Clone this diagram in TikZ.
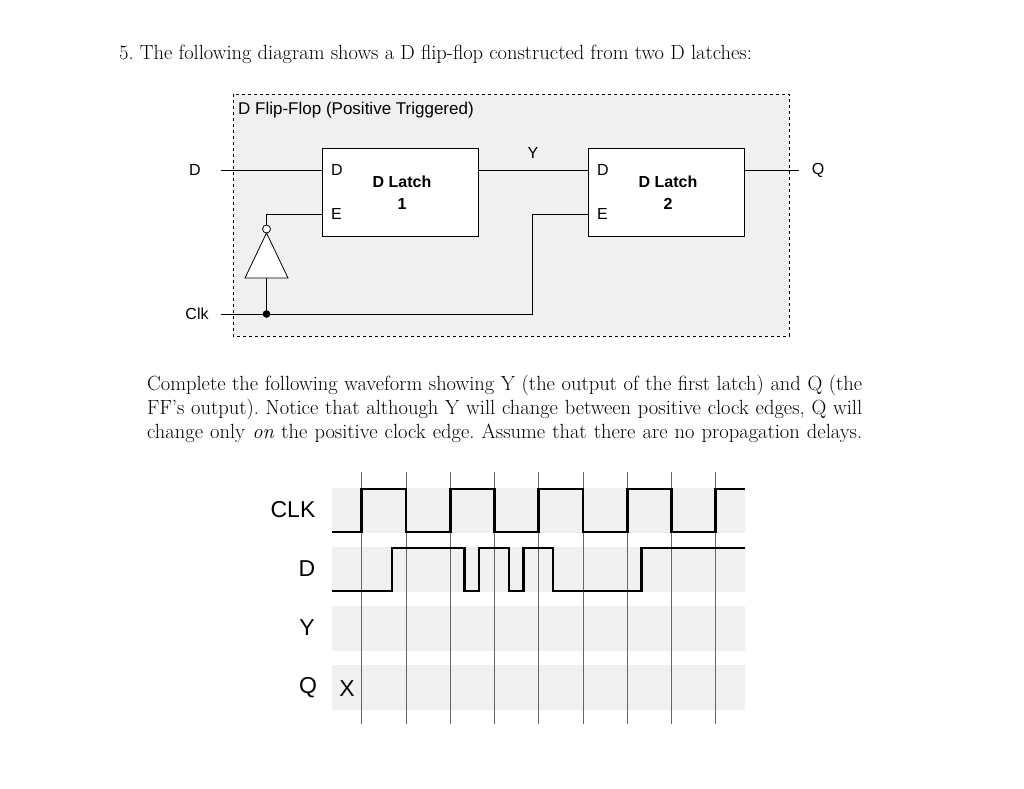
\documentclass[tikz,border=0pt]{standalone}
\usepackage{fontspec}
\newfontfamily\hv{Liberation Sans}
\frenchspacing
\begin{document}
\begin{tikzpicture}[x=1pt,y=-1pt,
  wire/.style={line width=0.8pt},
  wave/.style={line width=2.8pt},
  sans/.style={font=\hv\fontsize{16}{18}\selectfont,inner sep=0pt},
  big/.style={font=\hv\fontsize{23}{25}\selectfont,inner sep=0pt},
  ser/.style={font=\fontsize{20.5}{24}\selectfont,inner sep=0pt,anchor=base west}]
\useasboundingbox (0,0) rectangle (1024,788);
\fill[white] (0,0) rectangle (1024,788);
% texts
\node[ser] (t1) at (119,59) {5. The following diagram shows a D flip-flop constructed from two D latches:};
\node[ser] (p1) at (147,390) {\makebox[715pt][s]{Complete the following waveform showing Y (the output of the first latch) and Q (the}};
\node[ser] (p2) at (147,414) {\makebox[715pt][s]{FF's output). Notice that although Y will change between positive clock edges, Q will}};
\node[ser] (p3) at (147,438) {\makebox[715pt][s]{change only \emph{on} the positive clock edge. Assume that there are no propagation delays.}};
% circuit
\draw[dashed,fill=black!6,line width=0.8pt] (233,94) rectangle (789,336);
\node[sans,font=\hv\fontsize{17}{19}\selectfont,anchor=west] (title) at (238,110) {D Flip-Flop (Positive Triggered)};
\node[draw,fill=white,line width=1.3pt,minimum width=156pt,minimum height=88pt,anchor=north west] (L1) at (322,148) {};
\node[draw,fill=white,line width=1.3pt,minimum width=156pt,minimum height=88pt,anchor=north west] (L2) at (588,148) {};
\node[sans,font=\hv\bfseries\fontsize{16}{22}\selectfont,align=center] (l1t) at (402,193) {D Latch\\1};
\node[sans,font=\hv\bfseries\fontsize{16}{22}\selectfont,align=center] (l2t) at (668,193) {D Latch\\2};
\coordinate (D1) at (322,170); \coordinate (E1) at (322,214);
\coordinate (D2) at (588,170); \coordinate (E2) at (588,214);
\node[sans,anchor=west] (pd1) at (331,170) {D};
\node[sans,anchor=west] (pe1) at (331,214) {E};
\node[sans,anchor=west] (pd2) at (597,170) {D};
\node[sans,anchor=west] (pe2) at (597,214) {E};
\node[sans] (Din) at (195,170) {D};
\node[sans] (Clk) at (197,314) {Clk};
\node[sans] (Yl) at (533,153) {Y};
\node[sans] (Ql) at (818,170) {Q};
\coordinate (Ds) at (221,170); \coordinate (Cs) at (221,314);
\coordinate (Qe) at (799,170);
\draw[wire] (Ds) -- (D1);
\draw[wire] (L1.east |- D1) -- (D2);
\draw[wire] (L2.east |- D1) -- (Qe);
\coordinate (J) at (266.5,314);
\draw[wire] (Cs) -- (532,314) -- (532,214) -- (E2);
\draw[wire] (J) -- (266.5,278);
\draw[wire,fill=white] (245,278) -- (288,278) -- (266.5,233) -- cycle;
\draw[wire,fill=white] (266.5,229) circle (4);
\draw[wire] (266.5,225) -- (266.5,214) -- (E1);
\fill (J) circle (3.8);
% waveform
\foreach \y in {488,547,606,665} \fill[black!6] (332,\y) rectangle (745,\y+44.5);
\foreach \i in {0,...,8} \draw[line width=0.6pt,black!60] (361.7+\i*44.25,472) -- (361.7+\i*44.25,724);
\node[big] (lclk) at (293,510) {CLK};
\node[big] (ld) at (307,569) {D};
\node[big] (ly) at (307,628) {Y};
\node[big] (lq) at (308,688) {Q};
\node[big] (lx) at (347,689) {X};
\draw[wave] (332,532) -- (361.7,532) -- (361.7,489) -- (406,489) -- (406,532) -- (450.2,532) -- (450.2,489) -- (494.5,489) -- (494.5,532) -- (538.7,532) -- (538.7,489) -- (583,489) -- (583,532) -- (627.2,532) -- (627.2,489) -- (671.5,489) -- (671.5,532) -- (715.7,532) -- (715.7,489) -- (745,489);
\draw[wave] (332,591) -- (392,591) -- (392,548) -- (464.7,548) -- (464.7,591) -- (479,591) -- (479,548) -- (509,548) -- (509,591) -- (523.7,591) -- (523.7,548) -- (553,548) -- (553,591) -- (641.7,591) -- (641.7,548) -- (745,548);
\end{tikzpicture}
\end{document}
